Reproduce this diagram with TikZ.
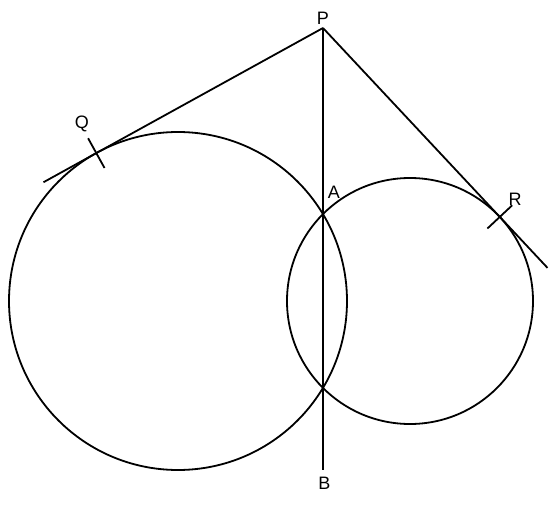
\documentclass[tikz,border=0pt]{standalone}
\usepackage{fontspec}
\setmainfont{Liberation Sans}
\usetikzlibrary{calc}

\begin{document}
\begin{tikzpicture}[
    x=1pt, y=-1pt,
    curve/.style={line width=1.8pt},
    tick/.style={line width=1.8pt},
    lbl/.style={font=\fontsize{18}{20}\selectfont, inner sep=0pt}
]
    \useasboundingbox (0,0) rectangle (558,511);
    \coordinate (O1) at (178,301);
    \coordinate (O2) at (410,301);
    \coordinate (P) at (323,28);
    \coordinate (Bend) at (323,470);
    \coordinate (Q) at (96.3,153.1);
    \coordinate (R) at (499.8,216.9);
    \coordinate (A) at (323,214);
    \coordinate (B) at (323,388);

    \draw[curve] (O1) circle[radius=169];
    \draw[curve] (O2) circle[radius=123];
    \draw[curve] (P) -- (Bend);
    \draw[curve] (P) -- ($(P)!1.233!(Q)$);
    \draw[curve] (P) -- ($(P)!1.27!(R)$);

    \draw[tick] ($(Q)!17pt!(O1)$) -- ($(Q)!-17pt!(O1)$);
    \draw[tick] ($(R)!17pt!(O2)$) -- ($(R)!-17pt!(O2)$);

    \node[lbl] (lP) at (323,18.5) {P};
    \node[lbl] (lQ) at (82,123.5) {Q};
    \node[lbl] (lA) at (334,192) {A};
    \node[lbl] (lR) at (515,199) {R};
    \node[lbl] (lB) at (324.5,483.5) {B};
\end{tikzpicture}
\end{document}
